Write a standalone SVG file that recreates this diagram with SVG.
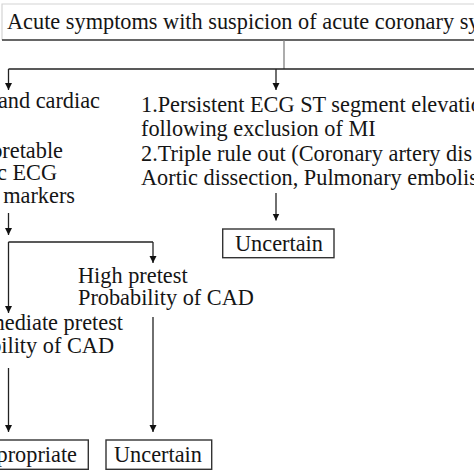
<svg xmlns="http://www.w3.org/2000/svg" width="474" height="474" viewBox="0 0 474 474">
<defs>
<marker id="ah" markerUnits="userSpaceOnUse" markerWidth="8" markerHeight="8" refX="7" refY="3.5" orient="auto">
<path d="M0,0 L7,3.5 L0,7 z" fill="#111"/>
</marker>
<style>
text{font-family:"Liberation Serif","Times New Roman",serif;font-size:22.3px;fill:#151515}
.c{fill:none;stroke:#222;stroke-width:1.3}
.a{marker-end:url(#ah)}
.box{fill:#fff;stroke:#333;stroke-width:1.4}
.e{text-anchor:end}
</style>
</defs>
<rect width="474" height="474" fill="#fff"/>
<g id="top">
<path d="M2,40 V4 H474" fill="none" stroke="#d4d4d4" stroke-width="1.2"/>
<path d="M2,40 H474" fill="none" stroke="#333" stroke-width="1.4"/>
<text x="7" y="29">Acute symptoms with suspicion of acute coronary sy</text>
</g>
<g id="left-criteria">
<text class="e" x="100" y="108">and cardiac</text>
<text class="e" x="63" y="158">pretable</text>
<text class="e" x="57" y="180">c ECG</text>
<text class="e" x="75" y="203">markers</text>
</g>
<g id="mid-criteria">
<text x="141" y="112">1.Persistent ECG ST segment elevatio</text>
<text x="141" y="136">following exclusion of MI</text>
<text x="141" y="161">2.Triple rule out (Coronary artery dis</text>
<text x="141" y="185">Aortic dissection, Pulmonary embolis</text>
</g>
<g id="mid-uncertain">
<rect class="box" x="222.7" y="229" width="111.3" height="28.7"/>
<text x="235" y="251">Uncertain</text>
</g>
<g id="high">
<text x="78" y="283">High pretest</text>
<text x="78" y="305">Probability of CAD</text>
</g>
<g id="intermediate">
<text class="e" x="123" y="330">mediate pretest</text>
<text class="e" x="114" y="353">bility of CAD</text>
</g>
<g id="appropriate">
<rect class="box" x="-10" y="440" width="98.3" height="29.3"/>
<text class="e" x="77" y="462">propriate</text>
</g>
<g id="bottom-uncertain">
<rect class="box" x="106" y="440" width="105.7" height="29.3"/>
<text x="114" y="462">Uncertain</text>
</g>
<g id="connectors">
<path d="M284,40 V69" fill="none" stroke="#808080" stroke-width="1.3"/>
<path class="c" d="M8.5,69 H474"/>
<path class="c a" d="M8.5,69 V90"/>
<path class="c a" d="M276,69 V90"/>
<path class="c a" d="M276,193 V220.5"/>
<path class="c a" d="M8.5,213 V235"/>
<path class="c" d="M8.5,242 H153"/>
<path class="c a" d="M153,242 V263"/>
<path class="c a" d="M8.5,242 V313"/>
<path class="c a" d="M8.5,368 V432"/>
<path class="c a" d="M153,317 V432"/>
</g>
</svg>
